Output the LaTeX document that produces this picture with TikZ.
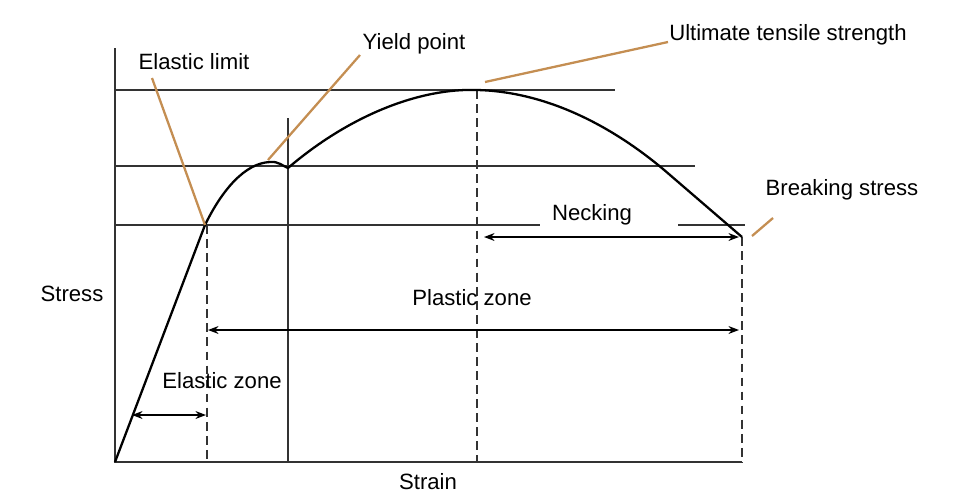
\documentclass[tikz,border=0pt]{standalone}
\usepackage{fontspec}
\setmainfont{Liberation Sans}
\usetikzlibrary{arrows.meta}
\definecolor{lead}{RGB}{196,142,82}
\begin{document}
\begin{tikzpicture}[x=0.02cm,y=-0.02cm,
  thin line/.style={draw=black!80,line width=0.6pt},
  dash line/.style={draw=black!80,line width=0.6pt,dash pattern=on 5pt off 3pt},
  leader/.style={draw=lead,line width=1.3pt},
  dim/.style={draw=black,line width=0.8pt,{Stealth[length=6pt]}-{Stealth[length=6pt]}},
  lbl/.style={font=\fontsize{12.6}{14}\selectfont,inner sep=1pt}]
\useasboundingbox (0,0) rectangle (966,498);
% axes
\coordinate (O) at (115,462);
\coordinate (Ytop) at (115,48);
\coordinate (Xend) at (742,462);
\draw[thin line] (Ytop) -- (O) -- (Xend);
% horizontal levels
\coordinate (h1a) at (115,90); \coordinate (h1b) at (615,90);
\coordinate (h2a) at (115,166); \coordinate (h2b) at (695,166);
\coordinate (h3a) at (115,225); \coordinate (h3b) at (540,225);
\coordinate (h3c) at (678,225); \coordinate (h3d) at (745,225);
\draw[thin line] (h1a) -- (h1b);
\draw[thin line] (h2a) -- (h2b);
\draw[thin line] (h3a) -- (h3b);
\draw[thin line] (h3c) -- (h3d);
% verticals
\coordinate (v0a) at (288,118); \coordinate (v0b) at (288,462);
\draw[thin line] (v0a) -- (v0b);
\coordinate (d1a) at (207,225); \coordinate (d1b) at (207,462);
\coordinate (d2a) at (477,90); \coordinate (d2b) at (477,462);
\coordinate (d3a) at (742,237); \coordinate (d3b) at (742,462);
\draw[dash line] (d1a) -- (d1b);
\draw[dash line] (d2a) -- (d2b);
\draw[dash line] (d3a) -- (d3b);
% curve
\coordinate (EL) at (205,225);
\coordinate (YP) at (270,162);
\coordinate (Dip) at (288,168);
\coordinate (UTS) at (477,90);
\coordinate (BR) at (742,237);
\draw[line width=1.3pt] (O) -- (EL)
  .. controls (222,190) and (245,163) .. (YP)
  .. controls (278,161) and (283,166) .. (Dip)
  .. controls (350,115) and (420,88) .. (UTS)
  .. controls (560,92) and (630,140) .. (670,175)
  -- (BR);
% leaders
\node[lbl] (tEL) at (194,62) {Elastic limit};
\node[lbl] (tYP) at (414,44) {Yield point};
\node[lbl] (tUTS) at (788,35) {Ultimate tensile strength};
\node[lbl] (tBS) at (842,190) {Breaking stress};
\coordinate (l1) at (152,78);
\coordinate (l2) at (360,55);
\coordinate (l3) at (668,42);
\coordinate (l4) at (773,218);
\coordinate (e2) at (268,160);
\coordinate (e3) at (485,82);
\coordinate (e4) at (752,236);
\draw[leader] (l1) -- (EL);
\draw[leader] (l2) -- (e2);
\draw[leader] (l3) -- (e3);
\draw[leader] (l4) -- (e4);
% dimension arrows
\coordinate (n1) at (484,237); \coordinate (n2) at (739,237);
\coordinate (p1) at (208,330); \coordinate (p2) at (739,330);
\coordinate (z1) at (132,415); \coordinate (z2) at (206,415);
\draw[dim] (n1) -- (n2);
\draw[dim] (p1) -- (p2);
\draw[dim] (z1) -- (z2);
\node[lbl] (tN) at (592,215) {Necking};
\node[lbl] (tP) at (472,298) {Plastic zone};
\node[lbl] (tEZ) at (222,381) {Elastic zone};
\node[lbl] (tS) at (72,294) {Stress};
\node[lbl] (tX) at (428,482) {Strain};
\end{tikzpicture}
\end{document}
